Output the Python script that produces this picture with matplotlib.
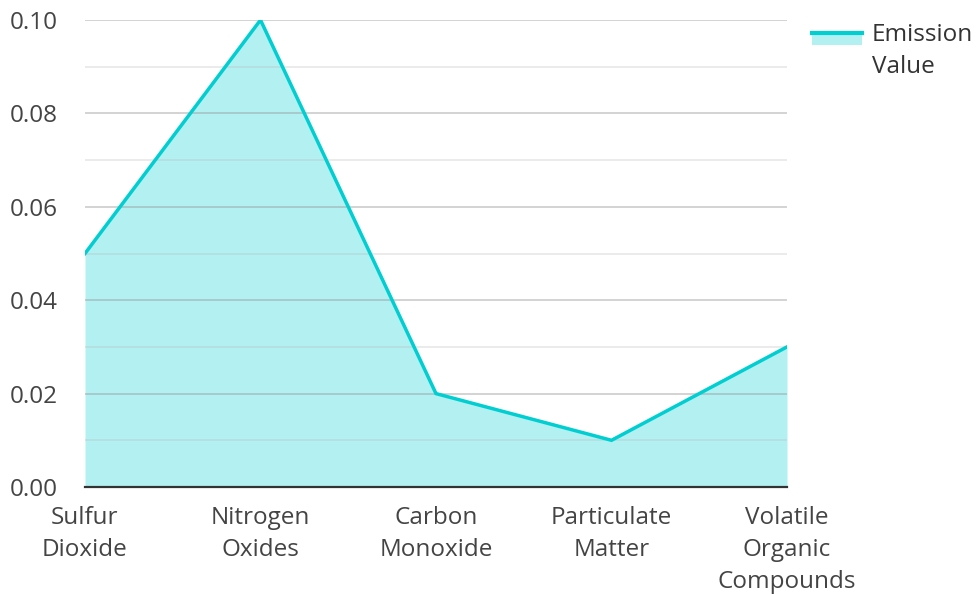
import matplotlib
matplotlib.use("Agg")
import matplotlib.pyplot as plt
from matplotlib.legend_handler import HandlerBase
from matplotlib.patches import Rectangle
from matplotlib.lines import Line2D

categories = ["Sulfur\nDioxide", "Nitrogen\nOxides", "Carbon\nMonoxide",
              "Particulate\nMatter", "Volatile\nOrganic\nCompounds"]
values = [0.05, 0.10, 0.02, 0.01, 0.03]
series_name = "Emission\nValue"
yticks = [0.00, 0.02, 0.04, 0.06, 0.08, 0.10]
minor_yticks = [0.01, 0.03, 0.05, 0.07, 0.09]

LINE = "#00CED1"
plt.rcParams['font.family'] = ['Open Sans', 'DejaVu Sans']
FS = 17.5

fig = plt.figure(figsize=(9.77, 5.94), dpi=100)
ax = fig.add_axes([85/977, 1-487/594, (787-85)/977, (487-20)/594])

x = list(range(len(categories)))
ax.fill_between(x, values, 0, color=LINE, alpha=0.3, linewidth=0, zorder=1)
ax.plot(x, values, color=LINE, linewidth=2.5, zorder=4, solid_joinstyle='miter')

ax.set_xlim(0, len(categories)-1)
ax.set_ylim(0, 0.10)
ax.set_yticks(yticks)
ax.set_yticklabels([f"{v:.2f}" for v in yticks])
ax.set_yticks(minor_yticks, minor=True)
ax.set_xticks(x)
ax.set_xticklabels(categories, linespacing=1.42)
ax.grid(True, which='major', axis='y', color='#999999', alpha=0.5, linewidth=1.2, zorder=2)
ax.grid(True, which='minor', axis='y', color='#bbbbbb', alpha=0.35, linewidth=1.2, zorder=2)
ax.set_axisbelow(False)
for s in ['left', 'right', 'top']:
    ax.spines[s].set_visible(False)
ax.spines['bottom'].set_color('#333333')
ax.spines['bottom'].set_linewidth(1.6)
ax.spines['bottom'].set_zorder(5)
ax.tick_params(axis='both', which='both', length=0, labelsize=FS, colors='#444444')
ax.tick_params(axis='y', pad=19.5)
ax.tick_params(axis='x', pad=14)


class AreaHandler(HandlerBase):
    def create_artists(self, legend, orig_handle, xdescent, ydescent, width, height, fontsize, trans):
        top = height * 0.85 + 8.6
        rect = Rectangle((-xdescent, -ydescent + top - 8.6), width, 8.6,
                         facecolor=LINE, alpha=0.3, edgecolor='none', transform=trans)
        line = Line2D([-xdescent, -xdescent + width], [-ydescent + top, -ydescent + top],
                      color=LINE, linewidth=3, transform=trans)
        return [rect, line]


handle = Rectangle((0, 0), 1, 1)
leg = fig.legend([handle], [series_name], handler_map={Rectangle: AreaHandler()},
                 loc='upper left', bbox_to_anchor=(812/977, 1-23/594), frameon=False,
                 fontsize=FS, handlelength=2.05, handleheight=0.8, handletextpad=0.4,
                 labelcolor='#333333', borderaxespad=0, borderpad=0)
for t in leg.get_texts():
    t.set_linespacing(1.42)

fig.savefig("out.png", dpi=100)
